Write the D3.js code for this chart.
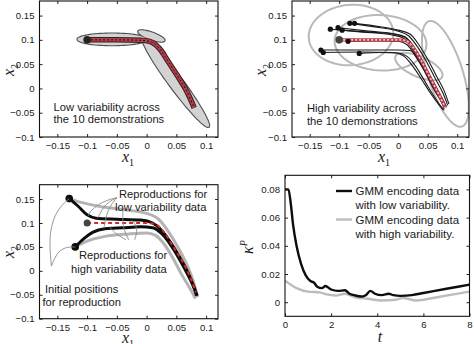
<!DOCTYPE html>
<html>
<head>
<meta charset="utf-8">
<script src="https://cdn.jsdelivr.net/npm/d3@7"></script>
<style>
  body { margin: 0; background: #fff; }
  svg { display: block; }
  text { font-family: "Liberation Sans", Arial, Helvetica, sans-serif; fill: #1a1a1a; }
</style>
</head>
<body>
<script>
// tick values
const xTicks = [-0.15, -0.1, -0.05, 0, 0.05, 0.1];
const yTicks = [-0.1, -0.05, 0, 0.05, 0.1, 0.15];
const tTicks = [0, 2, 4, 6, 8];
const kTicks = [0, 0.02, 0.04, 0.06, 0.08];

// GMM with low variability (center, semi axes, orientation in degrees)
const lowGmm = [
  { cx: -0.058, cy: 0.101, a: 0.058, b: 0.012, angle: 0 },
  { cx: 0.008, cy: 0.108, a: 0.024, b: 0.007, angle: -24 },
  { cx: 0.049, cy: 0.0125, a: 0.107, b: 0.012, angle: -59 }
];
const lowMean = [[-0.1, 0.1], [-0.05, 0.1], [-0.01, 0.099], [0.005, 0.097], [0.015, 0.09],
  [0.025, 0.077], [0.035, 0.058], [0.045, 0.039], [0.055, 0.02], [0.065, 0.0], [0.073, -0.02], [0.08, -0.04]];

// GMM with high variability
const highGmm = [
  { cx: -0.08, cy: 0.11, a: 0.072, b: 0.062, angle: 10 },
  { cx: -0.03, cy: 0.094, a: 0.078, b: 0.057, angle: -5 },
  { cx: 0.035, cy: 0.045, a: 0.045, b: 0.02, angle: -30 },
  { cx: 0.08, cy: 0.03, a: 0.112, b: 0.03, angle: -76 }
];
const highMean = [[-0.1, 0.1], [-0.05, 0.1], [0.0, 0.1], [0.012, 0.099], [0.025, 0.085],
  [0.04, 0.055], [0.055, 0.02], [0.068, -0.01], [0.08, -0.04]];
const highDemos = [
  [[-0.074, 0.134], [-0.03, 0.127], [0.0, 0.12], [0.02, 0.112], [0.035, 0.09], [0.05, 0.06], [0.065, 0.025], [0.078, -0.005], [0.086, -0.032]],
  [[-0.082, 0.134], [-0.03, 0.125], [0.0, 0.118], [0.018, 0.108], [0.033, 0.085], [0.048, 0.055], [0.063, 0.02], [0.076, -0.01], [0.084, -0.035]],
  [[-0.095, 0.12], [-0.05, 0.116], [-0.01, 0.112], [0.012, 0.105], [0.028, 0.08], [0.045, 0.045], [0.06, 0.012], [0.072, -0.015], [0.082, -0.038]],
  [[-0.102, 0.125], [-0.05, 0.118], [-0.01, 0.113], [0.012, 0.106], [0.03, 0.08], [0.046, 0.045], [0.061, 0.01], [0.073, -0.017], [0.081, -0.037]],
  [[-0.115, 0.122], [-0.06, 0.116], [-0.01, 0.11], [0.01, 0.103], [0.027, 0.075], [0.044, 0.04], [0.06, 0.005], [0.072, -0.02], [0.08, -0.04]],
  [[-0.085, 0.097], [-0.04, 0.098], [0.0, 0.097], [0.015, 0.09], [0.03, 0.065], [0.045, 0.035], [0.06, 0.0], [0.071, -0.022], [0.078, -0.042]],
  [[-0.131, 0.079], [0.0, 0.079], [0.02, 0.078], [0.032, 0.065], [0.045, 0.035], [0.06, 0.0], [0.072, -0.025], [0.08, -0.04]],
  [[-0.127, 0.074], [-0.06, 0.075], [-0.01, 0.074], [0.008, 0.068], [0.024, 0.047], [0.04, 0.018], [0.056, -0.012], [0.068, -0.032], [0.076, -0.044]],
  [[-0.066, 0.072], [-0.03, 0.074], [0.0, 0.073], [0.015, 0.066], [0.03, 0.045], [0.045, 0.015], [0.06, -0.015], [0.07, -0.033], [0.078, -0.045]]
];

// reproductions from two new starting points
const reproMean = [[-0.1, 0.1], [-0.05, 0.1], [0.0, 0.1], [0.015, 0.097], [0.03, 0.08], [0.045, 0.05],
  [0.06, 0.02], [0.072, -0.01], [0.083, -0.045]];
const reproLow = [
  [[-0.13, 0.151], [-0.115, 0.135], [-0.1, 0.117], [-0.085, 0.11], [-0.05, 0.108], [-0.01, 0.106], [0.01, 0.1],
   [0.025, 0.085], [0.04, 0.06], [0.055, 0.03], [0.07, -0.005], [0.08, -0.035], [0.085, -0.052]],
  [[-0.12, 0.05], [-0.105, 0.068], [-0.09, 0.081], [-0.07, 0.088], [-0.04, 0.09], [-0.01, 0.092], [0.01, 0.09],
   [0.025, 0.078], [0.04, 0.055], [0.055, 0.025], [0.07, -0.01], [0.08, -0.037], [0.084, -0.052]]
];
const reproHigh = [
  [[-0.13, 0.151], [-0.11, 0.143], [-0.08, 0.135], [-0.04, 0.128], [0.0, 0.12], [0.02, 0.108], [0.035, 0.085],
   [0.05, 0.055], [0.065, 0.02], [0.078, -0.02], [0.086, -0.055]],
  [[-0.12, 0.05], [-0.1, 0.062], [-0.07, 0.072], [-0.03, 0.077], [0.0, 0.079], [0.015, 0.074], [0.03, 0.055],
   [0.045, 0.025], [0.06, -0.01], [0.072, -0.035], [0.082, -0.058]]
];
const startPoints = [[-0.13, 0.151], [-0.12, 0.05]];

// kappa over time
const kappaLow = [[0, 0.08], [0.15, 0.08], [0.25, 0.07], [0.35, 0.055], [0.5, 0.04], [0.7, 0.027], [0.9, 0.019],
  [1.1, 0.015], [1.25, 0.014], [1.4, 0.011], [1.6, 0.01], [1.75, 0.0115], [2.0, 0.009], [2.3, 0.008],
  [2.6, 0.0085], [2.8, 0.006], [3.0, 0.005], [3.3, 0.004], [3.5, 0.005], [3.7, 0.008], [3.9, 0.006],
  [4.2, 0.005], [4.5, 0.006], [4.7, 0.005], [5.0, 0.0045], [5.5, 0.005], [6.0, 0.0065], [7.0, 0.0095], [8.0, 0.0125]];
const kappaHigh = [[0, 0.0153], [0.5, 0.01], [1.0, 0.0075], [1.5, 0.007], [1.8, 0.0055], [2.2, 0.0047],
  [2.6, 0.006], [3.05, 0.0035], [3.6, 0.0024], [4.2, 0.0012], [4.8, 0.0017], [5.1, 0.003], [5.7, 0.0012],
  [6.6, 0.0035], [8.0, 0.0075]];

const svg = d3.select("body").append("svg").attr("width", 474).attr("height", 344);
const fmt = d3.format("~g");
const SERIF = '"Liberation Serif", "DejaVu Serif", "Times New Roman", serif';

function panel(box, xDom, yDom, xt, yt) {
  const x = d3.scaleLinear().domain(xDom).range([box.left, box.right]);
  const y = d3.scaleLinear().domain(yDom).range([box.bottom, box.top]);
  const g = svg.append("g");
  const clipId = "clip" + Math.round(box.left) + "_" + Math.round(box.top);
  g.append("clipPath").attr("id", clipId).append("rect")
    .attr("x", box.left).attr("y", box.top)
    .attr("width", box.right - box.left).attr("height", box.bottom - box.top);
  const plot = g.append("g").attr("clip-path", `url(#${clipId})`);
  return { x, y, g, plot, box, xt, yt };
}

function axes(p) {
  const { g, x, y, box, xt, yt } = p;
  const ax = [
    [d3.axisBottom(x).tickValues(xt).tickFormat(fmt).tickSize(-3).tickPadding(5), `translate(0,${box.bottom})`],
    [d3.axisTop(x).tickValues(xt).tickFormat("").tickSize(-3), `translate(0,${box.top})`],
    [d3.axisLeft(y).tickValues(yt).tickFormat(fmt).tickSize(-3).tickPadding(5), `translate(${box.left},0)`],
    [d3.axisRight(y).tickValues(yt).tickFormat("").tickSize(-3), `translate(${box.right},0)`]
  ];
  ax.forEach(([a, tr]) => {
    const s = g.append("g").attr("transform", tr).call(a);
    s.select(".domain").remove();
    s.selectAll("line").attr("stroke", "#222");
    s.selectAll("text").attr("font-size", 9.6).attr("fill", "#1a1a1a")
      .attr("font-family", '"Liberation Sans", Arial, sans-serif');
  });
  g.append("rect").attr("x", box.left).attr("y", box.top)
    .attr("width", box.right - box.left).attr("height", box.bottom - box.top)
    .attr("fill", "none").attr("stroke", "#111").attr("stroke-width", 1.1);
}

function ellipsePts(e) {
  const th = e.angle * Math.PI / 180;
  return d3.range(0, 360, 5).map(d => {
    const t = d * Math.PI / 180;
    const u = e.a * Math.cos(t), v = e.b * Math.sin(t);
    return [e.cx + u * Math.cos(th) - v * Math.sin(th), e.cy + u * Math.sin(th) + v * Math.cos(th)];
  });
}

function mathLabel(g, xPos, yPos, main, sub, rotate) {
  const t = g.append("text").attr("text-anchor", "middle")
    .style("font-family", SERIF)
    .attr("transform", `translate(${xPos},${yPos})` + (rotate ? " rotate(-90)" : ""));
  t.append("tspan").attr("font-size", 16).style("font-style", "italic").text(main);
  if (sub) t.append("tspan").attr("font-size", 10).attr("dy", 3.5).text(sub);
  return t;
}

function multiLine(g, xPos, yPos, lines, step, size) {
  lines.forEach((s, i) => g.append("text").attr("x", xPos).attr("y", yPos + i * step)
    .attr("font-size", size || 11.2).text(s));
}

// ---- panel 1: low variability
const p1 = panel({ left: 39.5, right: 218, top: 1, bottom: 137 }, [-0.18, 0.12], [-0.1, 0.18], xTicks, yTicks);
{
  const line = d3.line().x(d => p1.x(d[0])).y(d => p1.y(d[1]));
  const smooth = d3.line().x(d => p1.x(d[0])).y(d => p1.y(d[1])).curve(d3.curveMonotoneX);
  p1.plot.selectAll("path.gs").data(lowGmm).join("path")
    .attr("d", e => line(ellipsePts(e)) + "Z")
    .attr("fill", "#d3d3d3").attr("stroke", "#4d4d4d").attr("stroke-width", 2.2);
  p1.plot.selectAll("path.gf").data(lowGmm).join("path")
    .attr("d", e => line(ellipsePts(e)) + "Z").attr("fill", "#d3d3d3");
  p1.plot.append("path").attr("d", smooth(lowMean)).attr("fill", "none").attr("stroke", "#3a1a1a").attr("stroke-width", 5.5);
  p1.plot.append("path").attr("d", smooth(lowMean)).attr("fill", "none").attr("stroke", "#b5404d").attr("stroke-width", 3.5);
  p1.plot.append("path").attr("d", smooth(lowMean)).attr("fill", "none").attr("stroke", "#111")
    .attr("stroke-width", 1).attr("stroke-dasharray", "2,2");
  p1.plot.append("circle").attr("cx", p1.x(lowMean[0][0])).attr("cy", p1.y(lowMean[0][1])).attr("r", 3.8).attr("fill", "#222");
  axes(p1);
  multiLine(p1.g, 53.5, 110.5, ["Low variability across", "the 10 demonstrations"], 12.5);
  mathLabel(p1.g, 128, 162, "x", "1");
  mathLabel(p1.g, 14, 70, "x", "2", true);
}

// ---- panel 2: high variability
const p2 = panel({ left: 292, right: 469, top: 1, bottom: 137 }, [-0.18, 0.12], [-0.1, 0.18], xTicks, yTicks);
{
  const line = d3.line().x(d => p2.x(d[0])).y(d => p2.y(d[1]));
  const smooth = d3.line().x(d => p2.x(d[0])).y(d => p2.y(d[1])).curve(d3.curveMonotoneX);
  p2.plot.selectAll("path.ge").data(highGmm).join("path")
    .attr("d", e => line(ellipsePts(e)) + "Z")
    .attr("fill", "none").attr("stroke", "#b9b9b9").attr("stroke-width", 2);
  p2.plot.selectAll("path.demo").data(highDemos).join("path")
    .attr("d", d => smooth(d)).attr("fill", "none").attr("stroke", "#1a1a1a").attr("stroke-width", 1.1);
  p2.plot.append("path").attr("d", smooth(highMean)).attr("fill", "none").attr("stroke", "#c0394a").attr("stroke-width", 3.2);
  p2.plot.append("path").attr("d", smooth(highMean)).attr("fill", "none").attr("stroke", "#f0c8cc")
    .attr("stroke-width", 1.6).attr("stroke-dasharray", "2,2");
  p2.plot.selectAll("circle.s").data(highDemos).join("circle")
    .attr("cx", d => p2.x(d[0][0])).attr("cy", d => p2.y(d[0][1])).attr("r", 2.6).attr("fill", "#111");
  p2.plot.append("circle").attr("cx", p2.x(highMean[0][0])).attr("cy", p2.y(highMean[0][1])).attr("r", 3.8).attr("fill", "#444");
  axes(p2);
  multiLine(p2.g, 307, 112, ["High variability across", "the 10 demonstrations"], 12.5);
  mathLabel(p2.g, 384, 162, "x", "1");
  mathLabel(p2.g, 266, 70, "x", "2", true);
}

// ---- panel 3: reproductions
const p3 = panel({ left: 39.5, right: 218, top: 184.7, bottom: 318.7 }, [-0.18, 0.12], [-0.1, 0.18], xTicks, yTicks);
{
  const smooth = d3.line().x(d => p3.x(d[0])).y(d => p3.y(d[1])).curve(d3.curveMonotoneX);
  const lead = d3.line().x(d => p3.x(d[0])).y(d => p3.y(d[1])).curve(d3.curveBasis);
  p3.plot.selectAll("path.hi").data(reproHigh).join("path")
    .attr("d", d => smooth(d)).attr("fill", "none").attr("stroke", "#b4b4b4").attr("stroke-width", 3);
  p3.plot.selectAll("path.lo").data(reproLow).join("path")
    .attr("d", d => smooth(d)).attr("fill", "none").attr("stroke", "#0d0d0d").attr("stroke-width", 3);
  p3.plot.append("path").attr("d", smooth(reproMean)).attr("fill", "none").attr("stroke", "#d42a2a")
    .attr("stroke-width", 2).attr("stroke-dasharray", "4,3");
  p3.plot.append("circle").attr("cx", p3.x(reproMean[0][0])).attr("cy", p3.y(reproMean[0][1])).attr("r", 3.5).attr("fill", "#444");
  p3.plot.selectAll("circle.s").data(startPoints).join("circle")
    .attr("cx", d => p3.x(d[0])).attr("cy", d => p3.y(d[1])).attr("r", 3.8).attr("fill", "#0d0d0d");

  // leader lines for the annotations
  const leaders = [
    [[-0.05, 0.153], [-0.075, 0.145], [-0.095, 0.125], [-0.098, 0.115]],
    [[-0.05, 0.153], [-0.07, 0.14], [-0.08, 0.115], [-0.082, 0.11]],
    [[-0.05, 0.153], [-0.065, 0.13], [-0.07, 0.1], [-0.072, 0.089]],
    [[-0.03, 0.065], [-0.04, 0.09], [-0.04, 0.115], [-0.04, 0.128]],
    [[-0.035, 0.065], [-0.055, 0.08], [-0.06, 0.09], [-0.062, 0.09]],
    [[-0.02, 0.065], [-0.015, 0.085], [-0.02, 0.1], [-0.025, 0.105]],
    [[-0.16, 0.01], [-0.165, 0.08], [-0.15, 0.13], [-0.13, 0.151]],
    [[-0.16, 0.01], [-0.15, 0.04], [-0.135, 0.05], [-0.12, 0.05]]
  ];
  p3.plot.selectAll("path.lead").data(leaders).join("path")
    .attr("d", d => lead(d)).attr("fill", "none").attr("stroke", "#8a8a8a").attr("stroke-width", 0.9);
  axes(p3);
  multiLine(p3.g, 119, 197.5, ["Reproductions for"], 0);
  multiLine(p3.g, 115, 211, ["low variability data"], 0);
  multiLine(p3.g, 79, 259, ["Reproductions for"], 0);
  multiLine(p3.g, 71, 272.5, ["high variability data"], 0);
  multiLine(p3.g, 45, 292.5, ["Initial positions"], 0);
  multiLine(p3.g, 42.5, 305.5, ["for reproduction"], 0);
  mathLabel(p3.g, 128, 343, "x", "1");
  mathLabel(p3.g, 14, 252, "x", "2", true);
}

// ---- panel 4: kappa
const p4 = panel({ left: 285, right: 469.5, top: 175.3, bottom: 316.3 }, [0, 8], [-0.01, 0.09], tTicks, kTicks);
{
  const line = d3.line().x(d => p4.x(d[0])).y(d => p4.y(d[1])).curve(d3.curveMonotoneX);
  p4.plot.append("path").attr("d", line(kappaHigh)).attr("fill", "none").attr("stroke", "#bcbcbc").attr("stroke-width", 2.4);
  p4.plot.append("path").attr("d", line(kappaLow)).attr("fill", "none").attr("stroke", "#0d0d0d").attr("stroke-width", 2.4);
  axes(p4);
  const legend = [
    { color: "#0d0d0d", text: ["GMM encoding data", "with low variability."] },
    { color: "#bcbcbc", text: ["GMM encoding data", "with high variability."] }
  ];
  legend.forEach((d, i) => {
    const y0 = 191 + i * 28.5;
    p4.g.append("line").attr("x1", 336).attr("x2", 352).attr("y1", y0).attr("y2", y0)
      .attr("stroke", d.color).attr("stroke-width", 2.4);
    multiLine(p4.g, 355.5, y0 + 4, d.text, 14.3, 11.5);
  });
  p4.g.append("text").attr("x", 380).attr("y", 342).style("font-family", SERIF).style("font-style", "italic")
    .attr("text-anchor", "middle").attr("font-size", 16).text("t");
  const k = p4.g.append("text").attr("text-anchor", "middle").style("font-family", SERIF)
    .attr("transform", "translate(253,247) rotate(-90)");
  k.append("tspan").attr("font-size", 16).style("font-style", "italic").text("κ");
  k.append("tspan").attr("font-size", 10).attr("dy", -6).style("font-style", "italic").text("P");
}
</script>
</body>
</html>
